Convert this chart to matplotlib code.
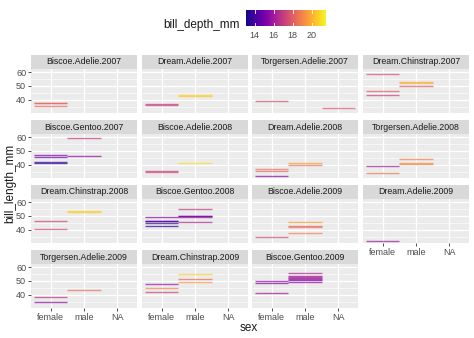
import numpy as np
import matplotlib
matplotlib.use("Agg")
from matplotlib import pyplot as plt
from matplotlib import colors

plt.rcParams['font.family'] = ['Liberation Sans', 'DejaVu Sans']

# long format data
panel = (["Biscoe.Adelie.2007"] * 3 + ["Dream.Adelie.2007"] * 4 + ["Torgersen.Adelie.2007"] * 2 +
         ["Dream.Chinstrap.2007"] * 6 + ["Biscoe.Gentoo.2007"] * 6 + ["Biscoe.Adelie.2008"] * 3 +
         ["Dream.Adelie.2008"] * 5 + ["Torgersen.Adelie.2008"] * 5 + ["Dream.Chinstrap.2008"] * 4 +
         ["Biscoe.Gentoo.2008"] * 10 + ["Biscoe.Adelie.2009"] * 5 + ["Dream.Adelie.2009"] * 1 +
         ["Torgersen.Adelie.2009"] * 3 + ["Dream.Chinstrap.2009"] * 6 + ["Biscoe.Gentoo.2009"] * 10)
sex = (["female"] * 3 +
       ["female", "female", "male", "male"] +
       ["female", "NA"] +
       ["female", "female", "female", "male", "male", "male"] +
       ["female", "female", "female", "female", "male", "male"] +
       ["female", "female", "male"] +
       ["female", "female", "female", "male", "male"] +
       ["female", "female", "male", "male", "male"] +
       ["female", "female", "male", "male"] +
       ["female"] * 5 + ["male"] * 5 +
       ["female", "male", "male", "male", "male"] +
       ["female"] +
       ["female", "female", "male"] +
       ["female", "female", "female", "male", "male", "male"] +
       ["female", "female", "female"] + ["male"] * 7)
bill_length = [38.0, 37.7, 35.6,
               36.4, 36.8, 42.4, 43.2,
               39.0, 34.1,
               58.8, 46.1, 43.2, 52.0, 52.6, 50.0,
               47.2, 45.6, 42.0, 41.6, 59.6, 46.5,
               35.0, 35.4, 41.0,
               37.2, 35.6, 32.1, 41.0, 39.6,
               39.0, 34.2, 44.4, 41.0, 40.6,
               46.2, 40.9, 53.2, 53.8,
               48.9, 46.6, 46.2, 45.0, 42.8, 54.7, 49.9, 50.2, 48.9, 45.3,
               34.4, 42.6, 42.2, 45.7, 37.3,
               31.6,
               38.6, 35.0, 43.7,
               47.7, 45.1, 42.3, 55.3, 51.1, 49.0,
               50.3, 48.5, 41.4, 55.5, 53.4, 52.8, 52.2, 51.6, 50.4, 49.4]
bill_depth = [18.8, 18.0, 18.3,
              17.3, 17.0, 20.5, 20.8,
              17.6, 18.0,
              17.5, 17.9, 17.2, 20.2, 19.8, 17.8,
              15.2, 15.0, 13.6, 13.9, 17.0, 15.7,
              17.5, 17.0, 21.0,
              18.5, 18.2, 15.5, 19.5, 18.6,
              16.2, 18.6, 18.9, 19.3, 19.0,
              17.2, 17.5, 20.5, 20.8,
              15.5, 14.2, 14.0, 13.8, 13.5, 17.0, 14.8, 15.0, 16.0, 16.5,
              17.5, 18.2, 18.6, 19.5, 19.0,
              16.0,
              16.8, 15.6, 18.5,
              15.8, 19.0, 17.2, 20.8, 18.3, 19.5,
              15.8, 15.5, 16.0, 16.5, 16.0, 16.2, 15.8, 16.0, 15.2, 15.6]

facets = ["Biscoe.Adelie.2007", "Dream.Adelie.2007", "Torgersen.Adelie.2007", "Dream.Chinstrap.2007",
          "Biscoe.Gentoo.2007", "Biscoe.Adelie.2008", "Dream.Adelie.2008", "Torgersen.Adelie.2008",
          "Dream.Chinstrap.2008", "Biscoe.Gentoo.2008", "Biscoe.Adelie.2009", "Dream.Adelie.2009",
          "Torgersen.Adelie.2009", "Dream.Chinstrap.2009", "Biscoe.Gentoo.2009"]
sex_levels = ["female", "male", "NA"]
y_ticks = [40, 50, 60]
depth_ticks = [14, 16, 18, 20]

W, H = 474, 338
fig = plt.figure(figsize=(W / 100, H / 100), dpi=100)

norm = colors.Normalize(vmin=13.1, vmax=21.5)
cmap = plt.get_cmap("plasma")

def px(x, y, w, h):
    return [x / W, 1 - (y + h) / H, w / W, h / H]

col_x = [31, 142, 252, 363]
row_y = [55, 120, 185, 250]
pw, sh, ph = 106, 14, 44
txt = "#1A1A1A"
tick_col = "#4D4D4D"

for i, f in enumerate(facets):
    r, c = divmod(i, 4)
    ax = fig.add_axes(px(col_x[c], row_y[r] + sh, pw, ph))
    ax.set_facecolor("#EBEBEB")
    ax.set_xlim(0.4, 3.6)
    ax.set_ylim(30.4, 62.3)
    for yy in [35, 45, 55]:
        ax.axhline(yy, color="white", lw=0.4, zorder=0)
    for yy in y_ticks:
        ax.axhline(yy, color="white", lw=0.9, zorder=0)
    for xx in [1, 2, 3]:
        ax.axvline(xx, color="white", lw=0.9, zorder=0)
    for p, s, bl, bd in zip(panel, sex, bill_length, bill_depth):
        if p != f:
            continue
        xc = sex_levels.index(s) + 1
        ax.hlines(bl, xc - 0.5, xc + 0.5, color=cmap(norm(bd)), lw=1.0, alpha=0.7, zorder=2)
    for sp in ax.spines.values():
        sp.set_visible(False)
    ax.set_xticks([1, 2, 3])
    ax.set_yticks(y_ticks)
    ax.tick_params(length=2, width=0.6, color="#333333", labelsize=6.5, labelcolor=tick_col, pad=1.5)
    if c == 0:
        ax.set_yticklabels([str(v) for v in y_ticks])
    else:
        ax.tick_params(axis="y", length=0, labelleft=False)
    if r == 3 or (r == 2 and c == 3):
        ax.set_xticklabels(sex_levels)
    else:
        ax.tick_params(axis="x", length=0, labelbottom=False)
    # strip
    sa = fig.add_axes(px(col_x[c], row_y[r], pw, sh))
    sa.set_facecolor("#D9D9D9")
    sa.set_xticks([])
    sa.set_yticks([])
    for sp in sa.spines.values():
        sp.set_visible(False)
    sa.text(0.5, 0.5, f, ha="center", va="center", fontsize=6.3, color=txt, transform=sa.transAxes)

fig.text(10 / W, 1 - 183 / H, "bill_length_mm", rotation=90, ha="center", va="center", fontsize=8.5, color=txt)
fig.text(249 / W, 1 - 328 / H, "sex", ha="center", va="center", fontsize=8.5, color=txt)

# colour bar legend
cax = fig.add_axes(px(246, 10, 80, 16))
grad = np.linspace(13.1, 21.5, 256).reshape(1, -1)
cax.imshow(grad, aspect="auto", cmap=cmap, norm=norm, extent=[13.1, 21.5, 0, 1])
cax.set_xlim(13.1, 21.5)
cax.set_ylim(0, 1)
for t in depth_ticks:
    cax.plot([t, t], [0, 0.2], color="white", lw=0.6)
    cax.plot([t, t], [0.8, 1], color="white", lw=0.6)
cax.set_yticks([])
cax.set_xticks(depth_ticks)
cax.set_xticklabels([str(t) for t in depth_ticks])
cax.tick_params(axis="x", length=0, labelsize=6.5, labelcolor=tick_col, pad=3.5)
for sp in cax.spines.values():
    sp.set_visible(False)
fig.text(240 / W, 1 - 25 / H, "bill_depth_mm", ha="right", va="center", fontsize=8.5, color=txt)

fig.savefig("out.png", dpi=100)
